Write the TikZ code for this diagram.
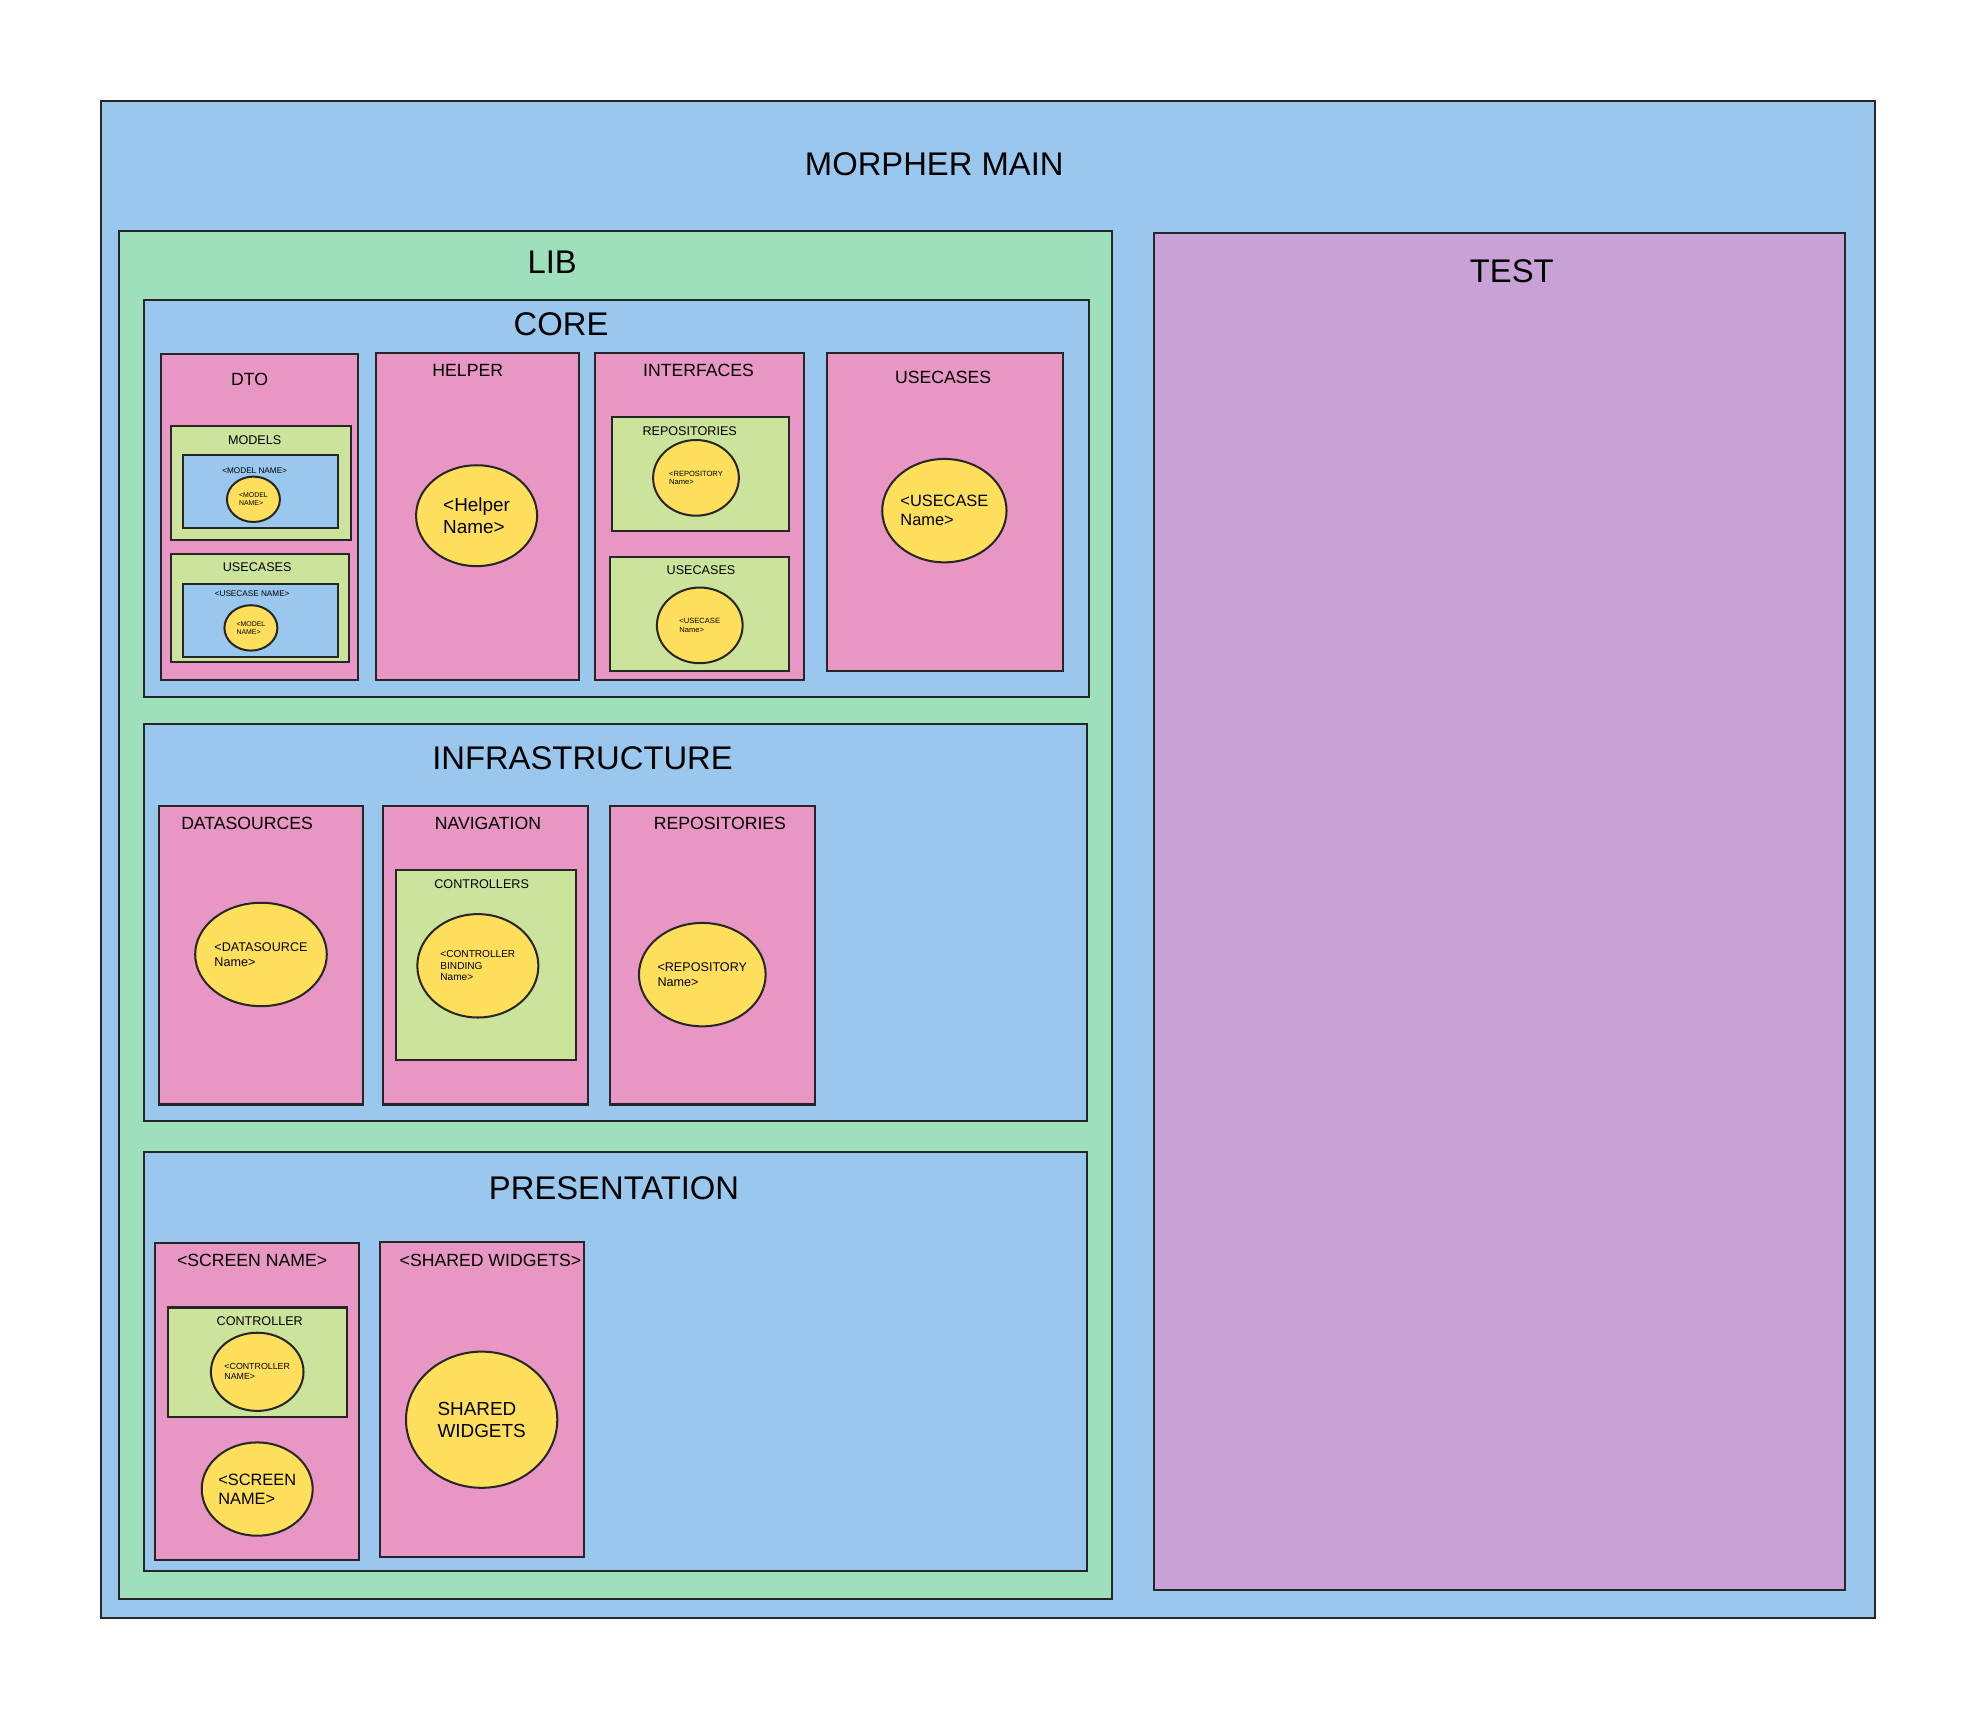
\documentclass[tikz,border=0pt]{standalone}
\usepackage{fontspec}
\setmainfont{Liberation Sans}
\usetikzlibrary{shapes.geometric}
\definecolor{cblue}{HTML}{99C7EE}
\definecolor{cgreen}{HTML}{9EE0BB}
\definecolor{cpurple}{HTML}{C8A2D7}
\definecolor{cpink}{HTML}{E896C4}
\definecolor{clime}{HTML}{CCE39C}
\definecolor{cyel}{HTML}{FFDF5C}
\newcommand{\Bx}[6]{%
 \pgfmathsetmacro{\cx}{(#3+#5)/2}\pgfmathsetmacro{\cy}{(#4+#6)/2}%
 \pgfmathsetmacro{\ww}{#5-#3}\pgfmathsetmacro{\hh}{#6-#4}%
 \node[box,fill=#2,minimum width=\ww pt,minimum height=\hh pt] (#1) at (\cx,\cy) {};}
\newcommand{\El}[7]{%
 \node[ell,font=\fs{#6},minimum width=#4 pt,minimum height=#5 pt] (#1) at (#2,#3) {#7};}
\newcommand{\fs}[1]{\fontsize{#1pt}{\dimexpr #1pt*23/20\relax}\selectfont}
\begin{document}
\begin{tikzpicture}[x=1pt,y=-1pt,
 box/.style={draw=black!85,line width=1.6pt,inner sep=0pt},
 ell/.style={ellipse,draw=black!85,line width=1.6pt,fill=cyel,inner sep=0pt,align=left},
 big/.style={font=\fs{26}},
 mid/.style={font=\fs{14}},
 sm/.style={font=\fs{10}},
 tiny/.style={font=\fs{6.5}}]
\useasboundingbox (0,0) rectangle (1568,1364);
\Bx{main}{cblue}{80}{80}{1487}{1283}
\node[big] (tmain) at (741,130) {MORPHER MAIN};
\Bx{lib}{cgreen}{94}{183}{882}{1268}
\node[big] (tlib) at (438,208) {LIB};
\Bx{test}{cpurple}{915}{185}{1463}{1261}
\node[big] (ttest) at (1199,215) {TEST};
% CORE
\Bx{core}{cblue}{114}{238}{864}{553}
\node[big] (tcore) at (445,257) {CORE};
\Bx{dto}{cpink}{128}{281}{284}{539}
\node[mid] (tdto) at (198,301) {DTO};
\Bx{models}{clime}{136}{338}{278}{428}
\node[sm] (tmodels) at (202,349) {MODELS};
\Bx{modn}{cblue}{145}{361}{268}{419}
\node[tiny] (tmodn) at (202,373) {<MODEL NAME>};
\El{e1}{201}{396}{42}{36}{5.5}{<MODEL\\NAME>}
\Bx{duc}{clime}{136}{439}{277}{525}
\node[sm] (tduc) at (204,450) {USECASES};
\Bx{ucn}{cblue}{145}{463}{268}{521}
\node[tiny] (tucn) at (200,471) {<USECASE NAME>};
\El{e2}{199}{498}{42}{36}{5.5}{<MODEL\\NAME>}
\Bx{helper}{cpink}{298}{280}{459}{539}
\node[mid] (thelper) at (371,294) {HELPER};
\El{e3}{378}{409}{96}{80}{15}{<Helper\\Name>}
\Bx{intf}{cpink}{472}{280}{638}{539}
\node[mid] (tintf) at (554,294) {INTERFACES};
\Bx{irep}{clime}{485}{331}{626}{421}
\node[sm] (tirep) at (547,342) {REPOSITORIES};
\El{e4}{552}{379}{68}{60}{6}{<REPOSITORY\\Name>}
\Bx{iuc}{clime}{484}{442}{626}{532}
\node[sm] (tiuc) at (556,452) {USECASES};
\El{e5}{555}{496}{68}{60}{6}{<USECASE\\Name>}
\Bx{uc}{cpink}{656}{280}{843}{532}
\node[mid] (tuc) at (748,299) {USECASES};
\El{e6}{749}{405}{96}{82}{13}{<USECASE\\Name>}
% INFRASTRUCTURE
\Bx{infra}{cblue}{114}{574}{862}{889}
\node[big] (tinfra) at (462,601) {INFRASTRUCTURE};
\Bx{ds}{cpink}{126}{639}{288}{876}
\node[mid] (tds) at (196,653) {DATASOURCES};
\El{e7}{207}{757}{96}{82}{10}{<DATASOURCE\\Name>}
\Bx{nav}{cpink}{304}{639}{466}{876}
\node[mid] (tnav) at (387,653) {NAVIGATION};
\Bx{ctrls}{clime}{314}{690}{457}{841}
\node[sm] (tctrls) at (382,701) {CONTROLLERS};
\El{e8}{379}{766}{96}{82}{8}{<CONTROLLER\\BINDING\\Name>}
\Bx{rep}{cpink}{484}{639}{646}{876}
\node[mid] (trep) at (571,653) {REPOSITORIES};
\El{e9}{557}{773}{96}{82}{10}{<REPOSITORY\\Name>}
% PRESENTATION
\Bx{pres}{cblue}{114}{914}{862}{1246}
\node[big] (tpres) at (487,942) {PRESENTATION};
\Bx{scr}{cpink}{123}{986}{285}{1237}
\node[mid] (tscr) at (200,1000) {<SCREEN NAME>};
\Bx{ctrl}{clime}{133}{1037}{275}{1124}
\node[sm] (tctrl) at (206,1048) {CONTROLLER};
\El{e10}{204}{1088}{68}{62}{7}{<CONTROLLER\\NAME>}
\El{e11}{204}{1181}{88}{74}{13}{<SCREEN\\NAME>}
\Bx{shw}{cpink}{301}{985}{463}{1235}
\node[mid] (tshw) at (389,1000) {<SHARED WIDGETS>};
\El{e12}{382}{1126}{120}{108}{15}{SHARED\\WIDGETS}
\end{tikzpicture}
\end{document}
